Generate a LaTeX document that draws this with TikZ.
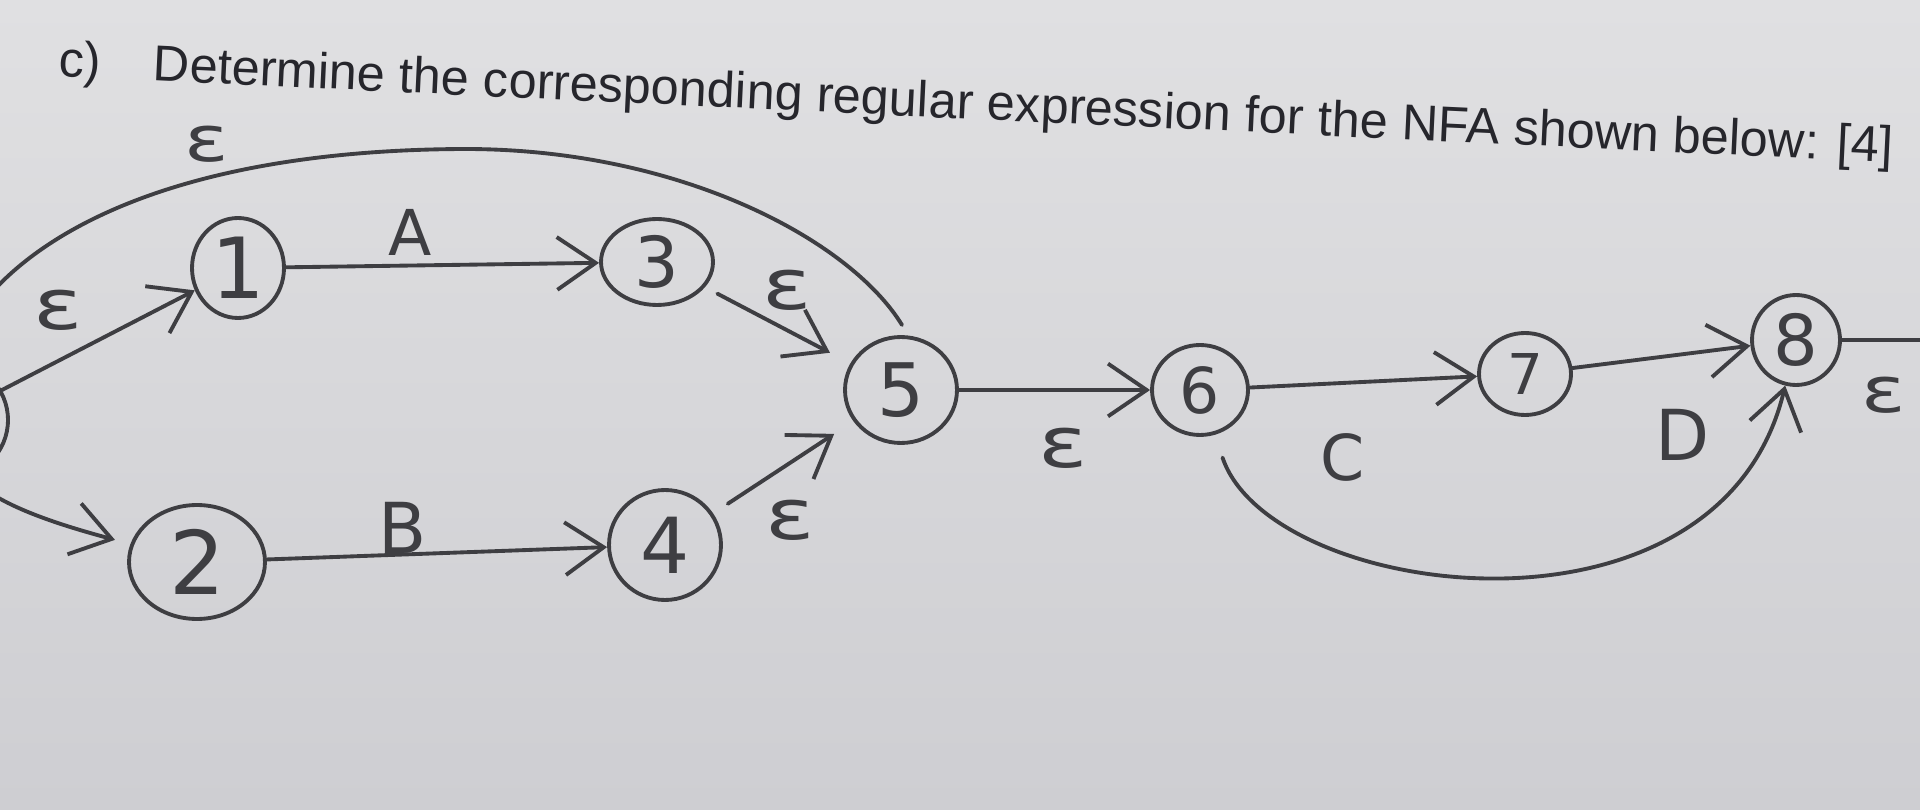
\documentclass[tikz,border=0pt]{standalone}
\usepackage{fontspec}
\setmainfont{Liberation Sans}
\newfontfamily\hand{DejaVu Sans}
\usetikzlibrary{arrows.meta,shapes.geometric}
\definecolor{inkc}{RGB}{62,62,66}
\definecolor{printc}{RGB}{38,38,44}
\definecolor{paperTop}{RGB}{224,224,226}
\definecolor{paperBot}{RGB}{206,206,210}
\newcommand{\eps}{\scalebox{1.3}[1]{ε}}
\begin{document}
\begin{tikzpicture}[x=0.02cm,y=-0.02cm,
  ink/.style={draw=inkc, line width=2.2pt, line cap=round, line join=round},
  arr/.style={ink, -{Straight Barb[length=22pt,width=30pt]}},
  state/.style={ellipse, draw=inkc, line width=2.2pt, inner sep=0pt, text=inkc, font=\hand\fontsize{40}{42}\selectfont},
  lbl/.style={inner sep=0pt, text=inkc, font=\hand\fontsize{40}{42}\selectfont}]
\useasboundingbox (0,0) rectangle (1920,810);
\shade[top color=paperTop, bottom color=paperBot] (0,0) rectangle (1920,810);
\begin{scope}
\clip (0,0) rectangle (1920,810);
% title
\node[anchor=base west, rotate=-2.7, text=printc, font=\fontsize{28.7}{30}\selectfont, inner sep=0pt] (title) at (58,76)
  {c)\hspace{1.05cm}Determine the corresponding regular expression for the NFA shown below: [4]};
% states
\node[state, minimum width=2.32cm, minimum height=2.32cm] (n0) at (-50,420) {};
\node[state, minimum width=1.84cm, minimum height=2.0cm, font=\hand\fontsize{48}{50}\selectfont] (n1) at (238,268) {1};
\node[state, minimum width=2.72cm, minimum height=2.28cm, font=\hand\fontsize{50}{52}\selectfont] (n2) at (197,562) {2};
\node[state, minimum width=2.24cm, minimum height=1.72cm] (n3) at (657,262) {3};
\node[state, minimum width=2.24cm, minimum height=2.2cm, font=\hand\fontsize{44}{46}\selectfont] (n4) at (665,545) {4};
\node[state, minimum width=2.24cm, minimum height=2.12cm, font=\hand\fontsize{42}{44}\selectfont] (n5) at (901,390) {5};
\node[state, minimum width=1.92cm, minimum height=1.8cm, font=\hand\fontsize{36}{38}\selectfont] (n6) at (1200,390) {6};
\node[state, minimum width=1.84cm, minimum height=1.64cm, font=\hand\fontsize{32}{34}\selectfont] (n7) at (1525,374) {7};
\node[state, minimum width=1.76cm, minimum height=1.8cm] (n8) at (1796,340) {8};
\coordinate (arcend) at (902,325);
\coordinate (outc) at (1940,340);
% labels
\node[lbl, font=\hand\fontsize{36}{38}\selectfont] (l0) at (207,144) {\eps};
\node[lbl] (l1) at (58,310) {\eps};
\node[lbl, font=\hand\fontsize{36}{38}\selectfont] (lA) at (410,232) {A};
\node[lbl, font=\hand\fontsize{40}{42}\selectfont] (lB) at (403,528) {B};
\node[lbl] (l35) at (787,290) {\eps};
\node[lbl] (l45) at (790,520) {\eps};
\node[lbl] (l56) at (1063,448) {\eps};
\node[lbl, font=\hand\fontsize{36}{38}\selectfont] (lC) at (1343,457) {C};
\node[lbl, font=\hand\fontsize{40}{42}\selectfont] (lD) at (1683,435) {D};
\node[lbl, font=\hand\fontsize{36}{38}\selectfont] (l8) at (1884,395) {\eps};
% transitions
\draw[ink] (n0.north) .. controls (-10,250) and (150,150) .. (465,149) .. controls (680,149) and (850,240) .. (arcend);
\draw[arr] (n0.30) -- (n1);
\draw[arr, shorten >=0.32cm] (n0.-70) .. controls (-5,505) and (60,525) .. (n2);
\draw[arr] (n1) -- (n3);
\draw[arr] (n2) -- (n4);
\draw[arr, shorten <=0.28cm, shorten >=0.46cm] (n3) -- (n5);
\draw[arr, shorten <=0.35cm, shorten >=0.46cm] (n4) -- (n5);
\draw[arr] (n5) -- (n6);
\draw[arr] (n6) -- (n7);
\draw[arr] (n7) -- (n8);
\draw[arr, shorten <=0.48cm] (n6) .. controls (1270,600) and (1720,660) .. (n8);
\draw[ink] (n8) -- (outc);
\end{scope}
\end{tikzpicture}
\end{document}
